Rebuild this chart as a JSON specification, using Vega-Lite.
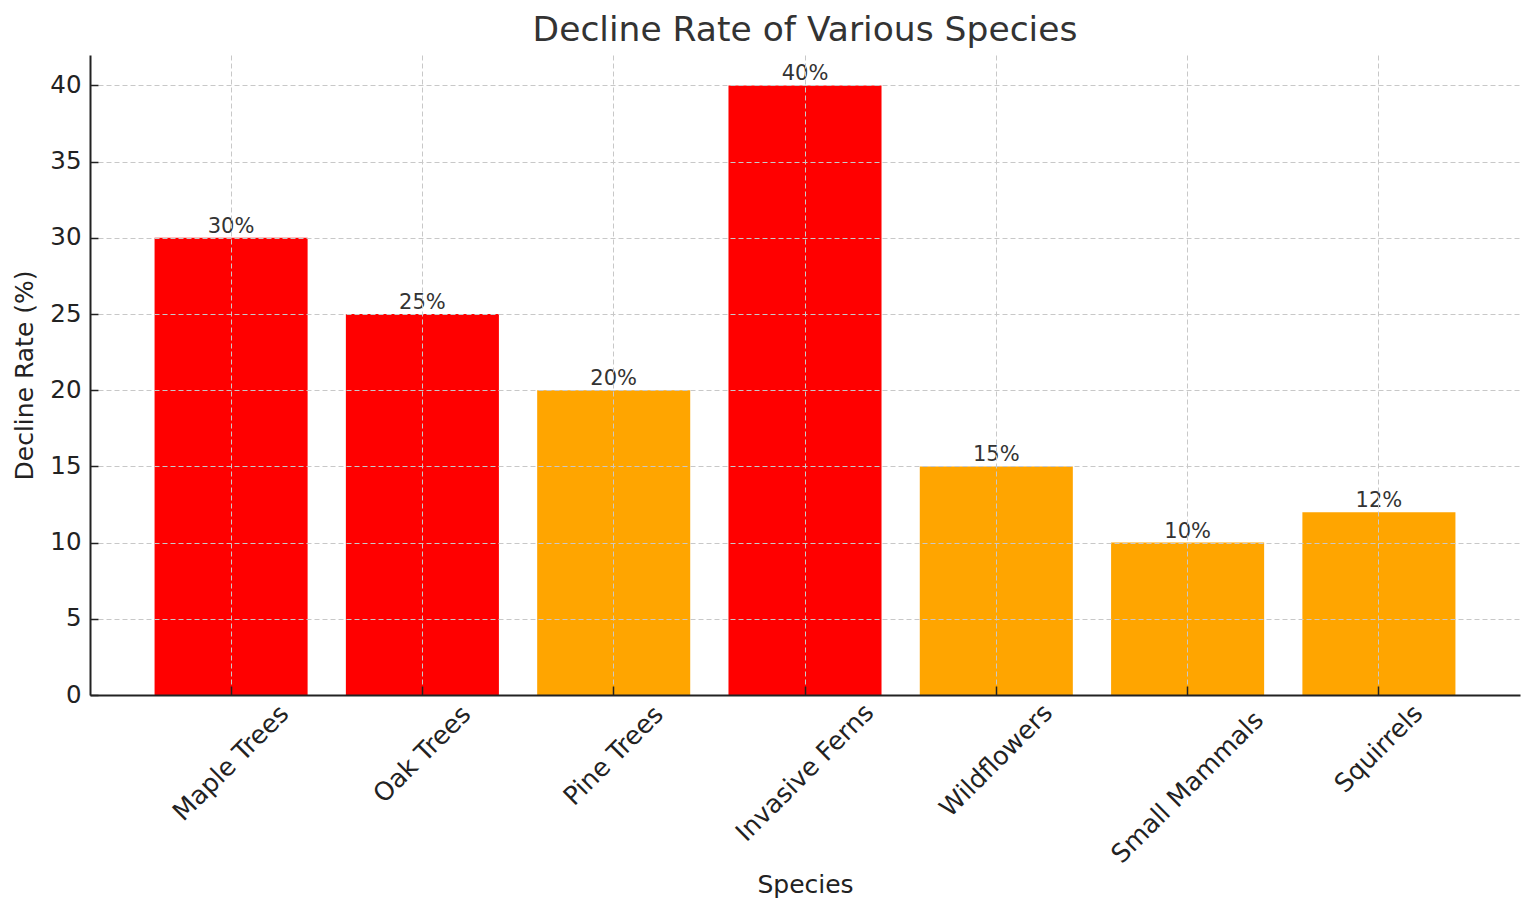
{
  "$schema": "https://vega.github.io/schema/vega-lite/v6.json",
  "width": 1430,
  "height": 640,
  "autosize": {"type": "none"},
  "padding": {"left": 90, "top": 55, "right": 16, "bottom": 220},
  "background": "white",
  "title": {
    "text": "Decline Rate of Various Species",
    "font": "DejaVu Sans",
    "fontSize": 34.5,
    "fontWeight": "normal",
    "color": "#333333",
    "anchor": "middle",
    "offset": 7
  },
  "config": {
    "view": {"stroke": null},
    "font": "DejaVu Sans"
  },
  "data": {
    "values": [
      {"species": "Maple Trees", "rate": 30},
      {"species": "Oak Trees", "rate": 25},
      {"species": "Pine Trees", "rate": 20},
      {"species": "Invasive Ferns", "rate": 40},
      {"species": "Wildflowers", "rate": 15},
      {"species": "Small Mammals", "rate": 10},
      {"species": "Squirrels", "rate": 12}
    ]
  },
  "transform": [{"calculate": "datum.rate + '%'", "as": "label"}],
  "encoding": {
    "x": {
      "field": "species",
      "type": "nominal",
      "sort": null,
      "scale": {"paddingInner": 0.2, "paddingOuter": 0.3375},
      "axis": {
        "title": "Species",
        "titleFont": "DejaVu Sans",
        "titleFontSize": 25,
        "titleFontWeight": "normal",
        "titleColor": "#222222",
        "titlePadding": 5,
        "labelFont": "DejaVu Sans",
        "labelFontSize": 25.5,
        "labelColor": "#222222",
        "labelAngle": -45,
        "labelAlign": "center",
        "labelBaseline": "middle",
        "labelPadding": {"expr": "24.5 + 8.57 * (({'Maple Trees': 6.095, 'Oak Trees': 5.07, 'Pine Trees': 5.221, 'Invasive Ferns': 7.214, 'Wildflowers': 5.787, 'Small Mammals': 8.912, 'Squirrels': 4.418})[datum.label] || 6)"},
        "labelOverlap": false,
        "labelLimit": 0,
        "bandPosition": 0.5,
        "domainColor": "#222222",
        "domainWidth": 2,
        "tickColor": "#222222",
        "tickWidth": 1.5,
        "tickSize": -9,
        "grid": true,
        "gridColor": "#c8c8c8",
        "gridDash": [5, 3],
        "gridWidth": 1,
        "zindex": 1
      }
    },
    "y": {
      "field": "rate",
      "type": "quantitative",
      "scale": {"domain": [0, 42], "nice": false},
      "axis": {
        "title": "Decline Rate (%)",
        "titleFont": "DejaVu Sans",
        "titleFontSize": 25,
        "titleFontWeight": "normal",
        "titleColor": "#222222",
        "titlePadding": 12,
        "values": [0, 5, 10, 15, 20, 25, 30, 35, 40],
        "labelFont": "DejaVu Sans",
        "labelFontSize": 24.5,
        "labelColor": "#222222",
        "labelPadding": 17,
        "domainColor": "#222222",
        "domainWidth": 2,
        "tickColor": "#222222",
        "tickWidth": 1.5,
        "tickSize": -8,
        "grid": true,
        "gridColor": "#c8c8c8",
        "gridDash": [5, 3],
        "gridWidth": 1,
        "zindex": 1
      }
    }
  },
  "layer": [
    {
      "mark": {"type": "bar"},
      "encoding": {
        "color": {
          "condition": {"test": "datum.rate >= 25", "value": "#ff0000"},
          "value": "#ffa500"
        }
      }
    },
    {
      "mark": {
        "type": "text",
        "baseline": "alphabetic",
        "dy": -5,
        "font": "DejaVu Sans",
        "fontSize": 21,
        "color": "#333333"
      },
      "encoding": {"text": {"field": "label"}}
    }
  ]
}
